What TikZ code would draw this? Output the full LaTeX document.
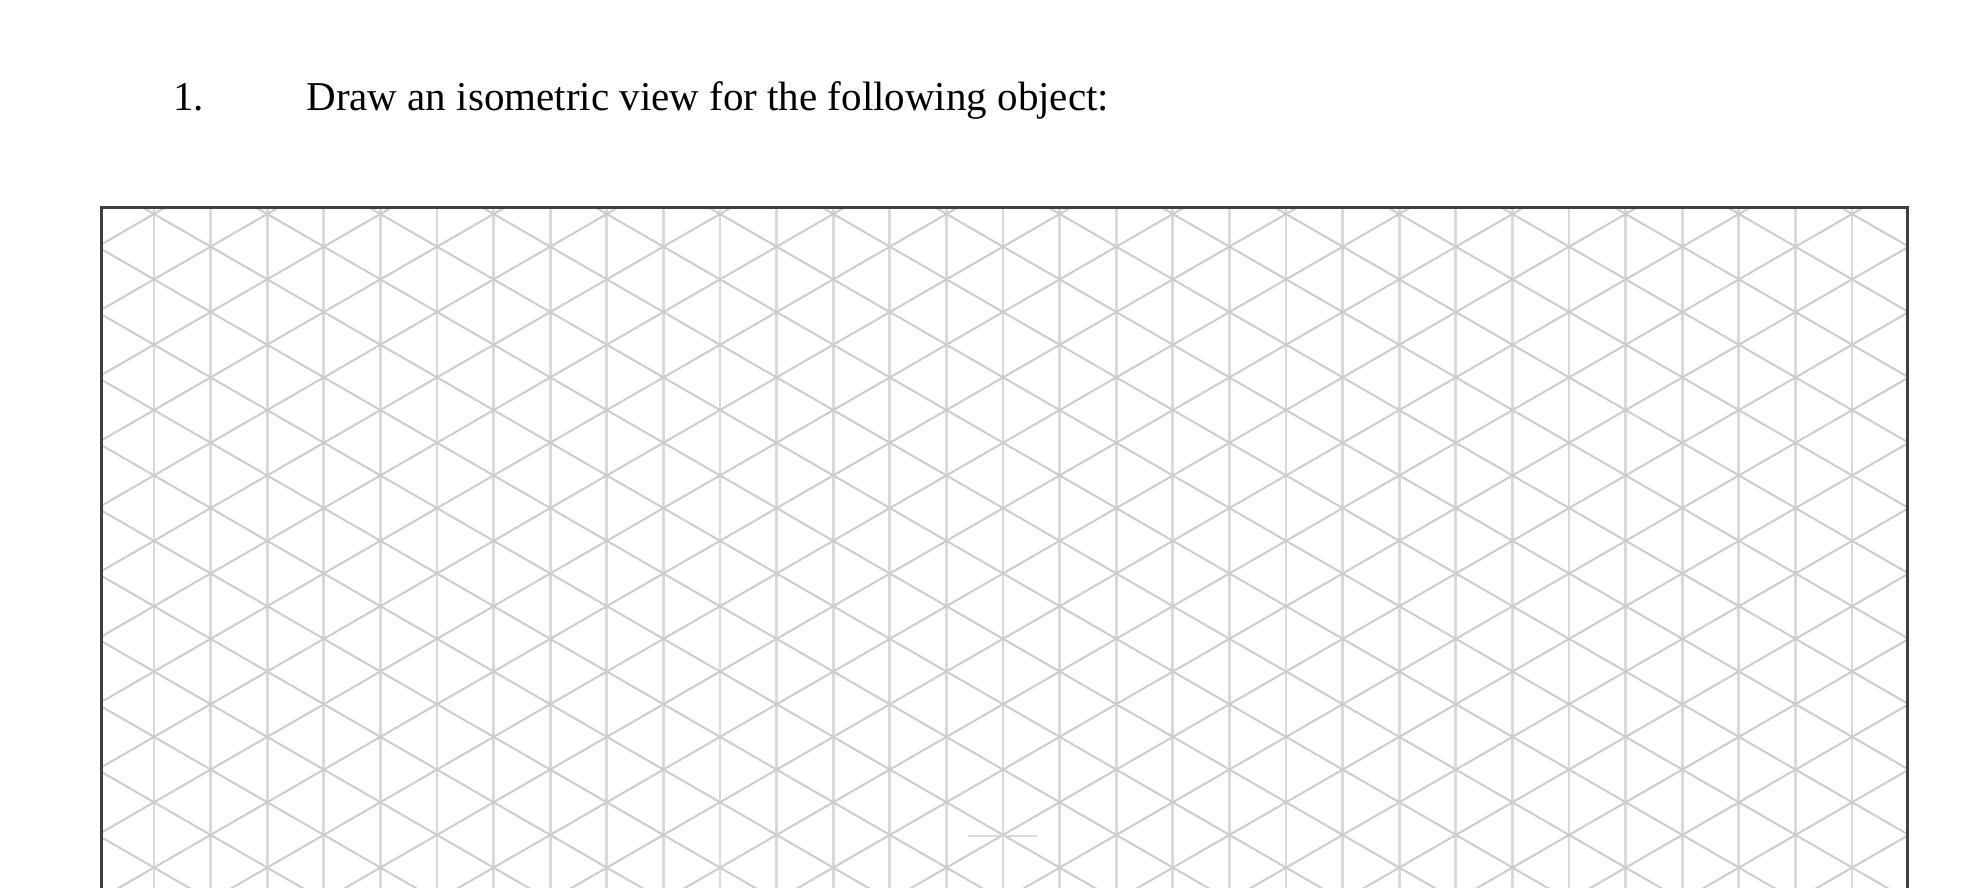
\documentclass[tikz,border=0pt]{standalone}
\usepackage{fontspec}
\setmainfont{Liberation Serif}
\usetikzlibrary{positioning}

\begin{document}
\begin{tikzpicture}[x=0.5pt, y=-0.5pt,
  gridline/.style={line width=1pt, black!20},
  vline/.style={line width=1.4pt, black!15},
  frameline/.style={line width=1.5pt, black!75},
  tasktext/.style={anchor=base west, inner sep=0pt, font=\fontsize{20.5}{24}\selectfont}]

% Page size
\useasboundingbox (0,0) rectangle (1964,888);

% Question
\node[tasktext] (num) at (173,111) {1.};
\node[tasktext] (task) at (306,111) {Draw an isometric view for the following object:};

% Isometric grid
\begin{scope}
\clip (101,207) rectangle (1907,888);
\foreach \k in {0,...,30}
  \draw[vline] ({154+56.6*\k},200) -- ({154+56.6*\k},900);
\foreach \n in {-17,...,27} {
  \draw[gridline] (90,{214+(90-154)*0.57735+65.36*\n}) -- (1920,{214+(1920-154)*0.57735+65.36*\n});
  \draw[gridline] (90,{214-(90-154)*0.57735+65.36*\n}) -- (1920,{214-(1920-154)*0.57735+65.36*\n});
}
% Short mark
\draw[vline] (968,836) -- (1037,836);
\end{scope}

% Frame
\draw[frameline] (101,900) -- (101,207) -- (1907,207) -- (1907,900);

\end{tikzpicture}
\end{document}
